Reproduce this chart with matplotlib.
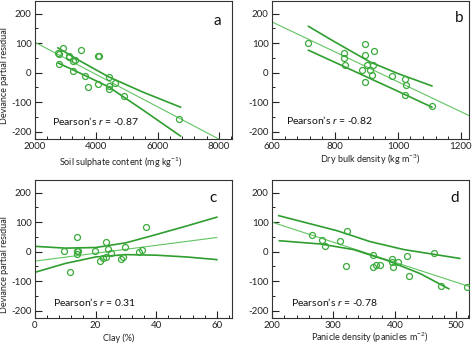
import matplotlib
matplotlib.use("Agg")
import matplotlib.pyplot as plt
from matplotlib.ticker import MultipleLocator

plt.rcParams['font.family'] = ['Lato', 'DejaVu Sans']
plt.rcParams['mathtext.fontset'] = 'custom'
plt.rcParams['mathtext.rm'] = 'Lato'
plt.rcParams['mathtext.it'] = 'Lato:italic'
plt.rcParams['mathtext.default'] = 'regular'
plt.rcParams['axes.unicode_minus'] = False

# ---------------- data ----------------
# panel a: soil sulphate
a_x = [2750, 2770, 2770, 2930, 3100, 3120, 3250, 3300, 3240, 3500, 3640, 3720,
       4050, 4100, 4050, 4400, 4410, 4420, 4620, 4920, 6700]
a_y = [65, 63, 28, 83, 52, 56, 40, 42, 5, 78, -12, -50,
       58, 58, -40, -15, -45, -55, -35, -78, -158]
a_fit_x = [2000, 8400]
a_fit_y = [103, -247]
a_up_x = [2750, 3500, 4400, 5500, 6750]
a_up_y = [84, 38, -14, -65, -117]
a_lo_x = [2750, 3500, 4400, 5500, 6750]
a_lo_y = [33, -3, -48, -125, -215]

# panel b: dry bulk density
b_x = [714, 828, 830, 833, 886, 896, 896, 896, 902, 912, 917, 921, 923,
       981, 1023, 1025, 1023, 1108]
b_y = [101, 65, 48, 27, 10, 96, 59, -32, 27, 8, -9, 25, 74,
       -11, -22, -41, -77, -113]
b_fit_x = [600, 1225]
b_fit_y = [172, -145]
b_up_x = [716, 800, 912, 1000, 1108]
b_up_y = [157, 104, 36, -3, -45]
b_lo_x = [716, 800, 912, 1000, 1108]
b_lo_y = [76, 35, -20, -63, -117]

# panel c: clay
c_x = [9.7, 11.4, 13.7, 13.7, 13.9, 14.3, 19.9, 21.3, 22.6, 23.3, 23.3, 24.1,
       25.0, 28.3, 29.2, 29.6, 34.4, 35.3, 36.7]
c_y = [3, -68, 48, 1, -8, 1, 2, -30, -21, -19, 33, 10,
       -6, -26, -19, 15, 0, 6, 84]
c_fit_x = [0, 60]
c_fit_y = [-32, 48]
c_up_x = [0, 10, 20, 30, 40, 50, 60]
c_up_y = [18, 12, 14, 30, 58, 87, 117]
c_lo_x = [0, 10, 20, 30, 40, 50, 60]
c_lo_y = [-70, -40, -18, -10, -12, -18, -27]

# panel d: panicle density
d_x = [265, 282, 287, 310, 322, 321, 365, 365, 370, 376, 396, 396, 397,
       405, 420, 424, 464, 476, 517]
d_y = [56, 39, 20, 35, 71, -47, -10, -53, -45, -44, -25, -34, -51,
       -34, -16, -83, -5, -115, -120]
d_fit_x = [200, 521]
d_fit_y = [100, -118]
d_up_x = [211, 306, 360, 415, 506]
d_up_y = [122, 71, 34, 7, -23]
d_lo_x = [212, 279, 333, 388, 442, 488]
d_lo_y = [37, 26, 7, -30, -75, -126]

letters = ['a', 'b', 'c', 'd']
pearson = ['-0.87', '-0.82', '0.31', '-0.78']
xlabels = ['Soil sulphate content (mg kg$^{-1}$)',
           'Dry bulk density (kg m$^{-3}$)',
           'Clay (%)',
           'Panicle density (panicles m$^{-2}$)']
xlims = [(2000, 8430), (600, 1226), (0, 65), (200, 521)]
xmajor = [2000, 200, 20, 100]
xminor = [400, 40, 4, 20]
ylim = (-225, 243)

# ---------------- layout ----------------
W, H = 474, 351
fig = plt.figure(figsize=(W / 100, H / 100), dpi=100)

def px_axes(x0, x1, y0, y1):
    return fig.add_axes([x0 / W, 1 - y1 / H, (x1 - x0) / W, (y1 - y0) / H])

boxes = [(35, 232, 1, 139), (272, 469, 1, 139), (35, 232, 180, 318), (272, 469, 180, 318)]
letter_pos = [(217, 21), (459, 18), (213, 198), (455, 198)]
pear_pos = [(52, 121), (286, 120), (53, 302), (291, 302)]
xlab_pos = [(121, 163), (370, 160), (119, 338), (370, 338)]

CI = '#2f9e2f'
FIT = '#62c462'
MK = '#3aaa3a'

data = [
    (a_x, a_y, a_fit_x, a_fit_y, a_up_x, a_up_y, a_lo_x, a_lo_y),
    (b_x, b_y, b_fit_x, b_fit_y, b_up_x, b_up_y, b_lo_x, b_lo_y),
    (c_x, c_y, c_fit_x, c_fit_y, c_up_x, c_up_y, c_lo_x, c_lo_y),
    (d_x, d_y, d_fit_x, d_fit_y, d_up_x, d_up_y, d_lo_x, d_lo_y),
]

for i, (box, dd) in enumerate(zip(boxes, data)):
    ax = px_axes(*box)
    px_, py_, fx, fy, ux, uy, lx, ly = dd
    ax.plot(fx, fy, color=FIT, lw=0.8, zorder=2)
    ax.plot(ux, uy, color=CI, lw=1.2, zorder=2)
    ax.plot(lx, ly, color=CI, lw=1.2, zorder=2)
    ax.plot(px_, py_, linestyle='none', marker='o', ms=4.3, mfc='none',
            mec=MK, mew=0.9, zorder=3)
    ax.set_xlim(*xlims[i])
    ax.set_ylim(*ylim)
    ax.xaxis.set_major_locator(MultipleLocator(xmajor[i]))
    ax.xaxis.set_minor_locator(MultipleLocator(xminor[i]))
    ax.yaxis.set_major_locator(MultipleLocator(100))
    ax.yaxis.set_minor_locator(MultipleLocator(50))
    ax.set_yticks([-200, -100, 0, 100, 200])
    ax.tick_params(which='major', direction='in', length=5, width=0.8,
                   labelsize=7, pad=2.5, colors='#222222')
    ax.tick_params(which='minor', direction='in', length=2.2, width=0.7,
                   colors='#222222')
    for s in ax.spines.values():
        s.set_linewidth(0.8)
        s.set_color('#333333')
    fig.text(letter_pos[i][0] / W, 1 - letter_pos[i][1] / H, letters[i],
             fontsize=11, ha='center', va='center', color='#111111')
    fig.text(pear_pos[i][0] / W, 1 - pear_pos[i][1] / H,
             'Pearson\u2019s $\\mathit{r}$ = ' + pearson[i],
             fontsize=7.5, ha='left', va='center', color='#111111')
    fig.text(xlab_pos[i][0] / W, 1 - xlab_pos[i][1] / H, xlabels[i],
             fontsize=6.5, ha='center', va='center', color='#222222')

for yc in (76, 265):
    fig.text(5 / W, 1 - yc / H, 'Deviance partial residual', rotation=90,
             fontsize=6.5, ha='center', va='center', color='#222222')

fig.savefig('out.png', dpi=100)
